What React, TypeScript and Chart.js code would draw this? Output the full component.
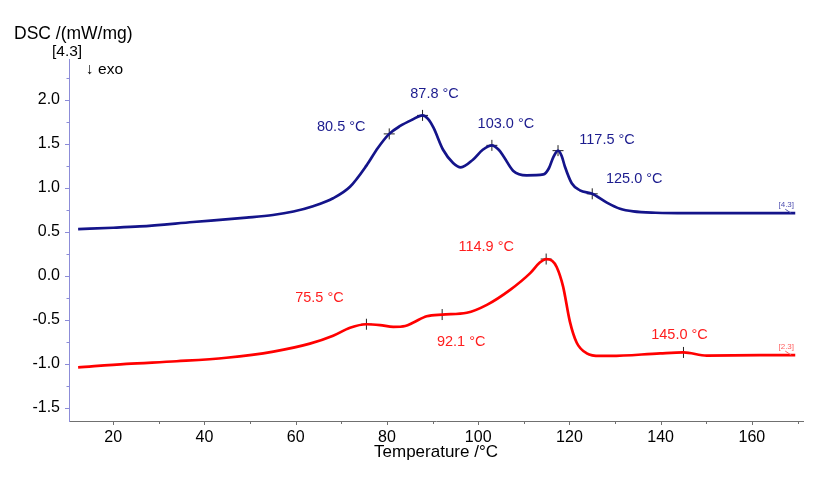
import { useEffect, useRef } from "react";
import { Chart, registerables } from "chart.js";

Chart.register(...registerables);

// Upper curve (sample [4.3])
const tempUpper = [
  12.3, 20, 25.8, 37.5, 49.2, 55, 59.5, 63.8, 68.2, 71.9, 75.5, 78, 80.5, 82.9, 85.5, 87.8,
  89, 90.2, 92.3, 94.5, 96.2, 98.9, 101, 103.0, 104.5, 105.5, 107.7, 110.6, 114.3, 115.5,
  116.5, 117.5, 118.3, 119.0, 120.5, 122.3, 125.0, 128.2, 131.1, 134.0, 138.9, 145.7, 163.3, 169.5,
];
const dscUpper = [
  0.53, 0.545, 0.56, 0.61, 0.66, 0.69, 0.73, 0.79, 0.88, 1.01, 1.25, 1.45, 1.61, 1.7, 1.77, 1.82,
  1.78, 1.68, 1.43, 1.28, 1.23, 1.32, 1.43, 1.48, 1.43, 1.36, 1.19, 1.14, 1.15, 1.22,
  1.35, 1.42, 1.36, 1.24, 1.05, 0.97, 0.93, 0.83, 0.76, 0.73, 0.715, 0.71, 0.71, 0.71,
];

// Lower curve (sample [2.3])
const tempLower = [
  12.3, 22.9, 33.9, 44.8, 55.1, 63.1, 68.2, 71.9, 75.5, 78.5, 81.4, 84, 85.8, 88.7, 92.1, 97.5,
  101.9, 107.0, 111.4, 113.5, 114.9, 116.2, 117.2, 118.6, 120.1, 121.6, 123.8, 126.7, 129,
  139.9, 145.0, 150.1, 161.8, 169.5,
];
const dscLower = [
  -1.04, -1.0, -0.97, -0.93, -0.86, -0.77, -0.68, -0.59, -0.55, -0.56, -0.58, -0.57, -0.53, -0.46,
  -0.44, -0.42, -0.33, -0.16, 0.03, 0.15, 0.19, 0.17, 0.1, -0.12, -0.52, -0.76, -0.88, -0.91, -0.91,
  -0.88, -0.87, -0.905, -0.9, -0.9,
];

// Peak temperatures marked with crosses
const peaksUpper = [80.5, 87.8, 103.0, 117.5, 125.0];
const peaksLower = [75.5, 92.1, 114.9, 145.0];

// Label placement relative to each cross (px)
const offsetsUpper = [[-48, -7], [12, -21], [14, -21], [49, -11], [42, -15]];
const offsetsLower = [[-47, -26], [19, 27], [-60, -12], [-4, -17]];

const X_MIN = 10.3;
const X_MAX = 171.2;
const Y_MIN = -1.648;
const Y_MAX = 2.46;

const BLUE = "#14148a";
const BLUE_TEXT = "#1c1c8e";
const RED = "#ff0000";
const RED_TEXT = "#ff1e1e";
const FONT = "'Liberation Sans', Arial, sans-serif";

const toPoints = (xs: number[], ys: number[]) => xs.map((x, i) => ({ x, y: ys[i] }));
const peakPoints = (peaks: number[], xs: number[], ys: number[]) =>
  peaks.map((t) => ({ x: t, y: ys[xs.indexOf(t)] }));

const decorations = {
  id: "dscDecorations",
  afterDraw(chart: any) {
    const ctx = chart.ctx as CanvasRenderingContext2D;
    const xs = chart.scales.x;
    const ys = chart.scales.y;
    const area = chart.chartArea;
    ctx.save();

    // x-axis tick marks
    ctx.strokeStyle = "#707070";
    ctx.lineWidth = 1;
    for (let t = 20; t <= X_MAX; t += 10) {
      const px = Math.round(xs.getPixelForValue(t)) + 0.5;
      ctx.beginPath();
      ctx.moveTo(px, area.bottom);
      ctx.lineTo(px, area.bottom + (t % 20 === 0 ? 4 : 3));
      ctx.stroke();
    }
    // y-axis tick marks
    ctx.strokeStyle = "#8c8cd8";
    for (let k = -6; k <= 9; k++) {
      const v = k * 0.25;
      if (v < Y_MIN || v > Y_MAX) continue;
      const py = Math.round(ys.getPixelForValue(v)) + 0.5;
      ctx.beginPath();
      ctx.moveTo(area.left, py);
      ctx.lineTo(area.left - (k % 2 === 0 ? 4 : 2.5), py);
      ctx.stroke();
    }

    // peak labels
    ctx.font = `14.5px ${FONT}`;
    ctx.textAlign = "center";
    ctx.textBaseline = "middle";
    const drawLabels = (peaks: number[], offs: number[][], xsArr: number[], ysArr: number[], color: string) => {
      ctx.fillStyle = color;
      peaks.forEach((t, i) => {
        const px = xs.getPixelForValue(t);
        const py = ys.getPixelForValue(ysArr[xsArr.indexOf(t)]);
        ctx.fillText(`${t.toFixed(1)} °C`, px + offs[i][0], py + offs[i][1]);
      });
    };
    drawLabels(peaksUpper, offsetsUpper, tempUpper, dscUpper, BLUE_TEXT);
    drawLabels(peaksLower, offsetsLower, tempLower, dscLower, RED_TEXT);

    // curve end tags
    const endTag = (xsArr: number[], ysArr: number[], tag: string, color: string) => {
      const n = xsArr.length - 1;
      const px = xs.getPixelForValue(xsArr[n]);
      const py = ys.getPixelForValue(ysArr[n]);
      ctx.fillStyle = color;
      ctx.strokeStyle = color;
      ctx.font = `8px ${FONT}`;
      ctx.textAlign = "center";
      ctx.fillText(tag, px - 9, py - 8);
      ctx.beginPath();
      ctx.moveTo(px - 10, py - 4);
      ctx.lineTo(px - 4, py);
      ctx.stroke();
    };
    endTag(tempUpper, dscUpper, "[4.3]", "#5050b0");
    endTag(tempLower, dscLower, "[2.3]", "#ff6060");

    // axis captions
    ctx.fillStyle = "#000";
    ctx.textBaseline = "middle";
    ctx.textAlign = "left";
    ctx.font = `17.5px ${FONT}`;
    ctx.fillText("DSC /(mW/mg)", 14, 34);
    ctx.font = `15.5px ${FONT}`;
    ctx.fillText("[4.3]", 52, 52);
    ctx.fillText("↓ exo", 86, 70);
    ctx.textAlign = "center";
    ctx.font = `17px ${FONT}`;
    ctx.fillText("Temperature /°C", 436, 452);

    ctx.restore();
  },
};

export default function App() {
  const canvasRef = useRef<HTMLCanvasElement | null>(null);

  useEffect(() => {
    if (!canvasRef.current) return;
    const chart = new Chart(canvasRef.current, {
      type: "line",
      data: {
        datasets: [
          {
            label: "[4.3]",
            data: toPoints(tempUpper, dscUpper),
            borderColor: BLUE,
            borderWidth: 2.7,
            pointRadius: 0,
            cubicInterpolationMode: "monotone",
          },
          {
            label: "[2.3]",
            data: toPoints(tempLower, dscLower),
            borderColor: RED,
            borderWidth: 2.7,
            pointRadius: 0,
            cubicInterpolationMode: "monotone",
          },
          {
            label: "peaks [4.3]",
            data: peakPoints(peaksUpper, tempUpper, dscUpper),
            showLine: false,
            pointStyle: "cross",
            pointRadius: 5.5,
            pointBorderColor: "#222",
            pointBorderWidth: 1,
          },
          {
            label: "peaks [2.3]",
            data: peakPoints(peaksLower, tempLower, dscLower),
            showLine: false,
            pointStyle: "cross",
            pointRadius: 5.5,
            pointBorderColor: "#222",
            pointBorderWidth: 1,
          },
        ],
      },
      options: {
        responsive: false,
        animation: false,
        events: [],
        layout: { padding: { left: 0, top: 59, right: 21, bottom: 0 } },
        plugins: { legend: { display: false }, tooltip: { enabled: false } },
        scales: {
          x: {
            type: "linear",
            min: X_MIN,
            max: X_MAX,
            afterFit: (s: any) => {
              s.height = 59;
            },
            grid: { display: false, drawTicks: false },
            border: { display: true, color: "#707070", width: 1 },
            ticks: {
              stepSize: 10,
              includeBounds: false,
              autoSkip: false,
              maxRotation: 0,
              padding: 7,
              color: "#000",
              font: { family: FONT, size: 16 },
              callback: (v: any) => (Number(v) % 20 === 0 ? String(v) : ""),
            },
          },
          y: {
            type: "linear",
            min: Y_MIN,
            max: Y_MAX,
            afterFit: (s: any) => {
              s.width = 69;
            },
            grid: { display: false, drawTicks: false },
            border: { display: true, color: "#8c8cd8", width: 1 },
            ticks: {
              stepSize: 0.25,
              includeBounds: false,
              autoSkip: false,
              padding: 9,
              color: "#000",
              font: { family: FONT, size: 16 },
              callback: (v: any) => {
                const n = Number(v);
                return Math.abs(n * 2 - Math.round(n * 2)) < 1e-6 ? n.toFixed(1) : "";
              },
            },
          },
        },
      },
      plugins: [decorations],
    });
    return () => chart.destroy();
  }, []);

  return (
    <div style={{ position: "fixed", left: 0, top: 0, width: 824, height: 480, background: "#fff" }}>
      <canvas ref={canvasRef} width={824} height={480} />
    </div>
  );
}
